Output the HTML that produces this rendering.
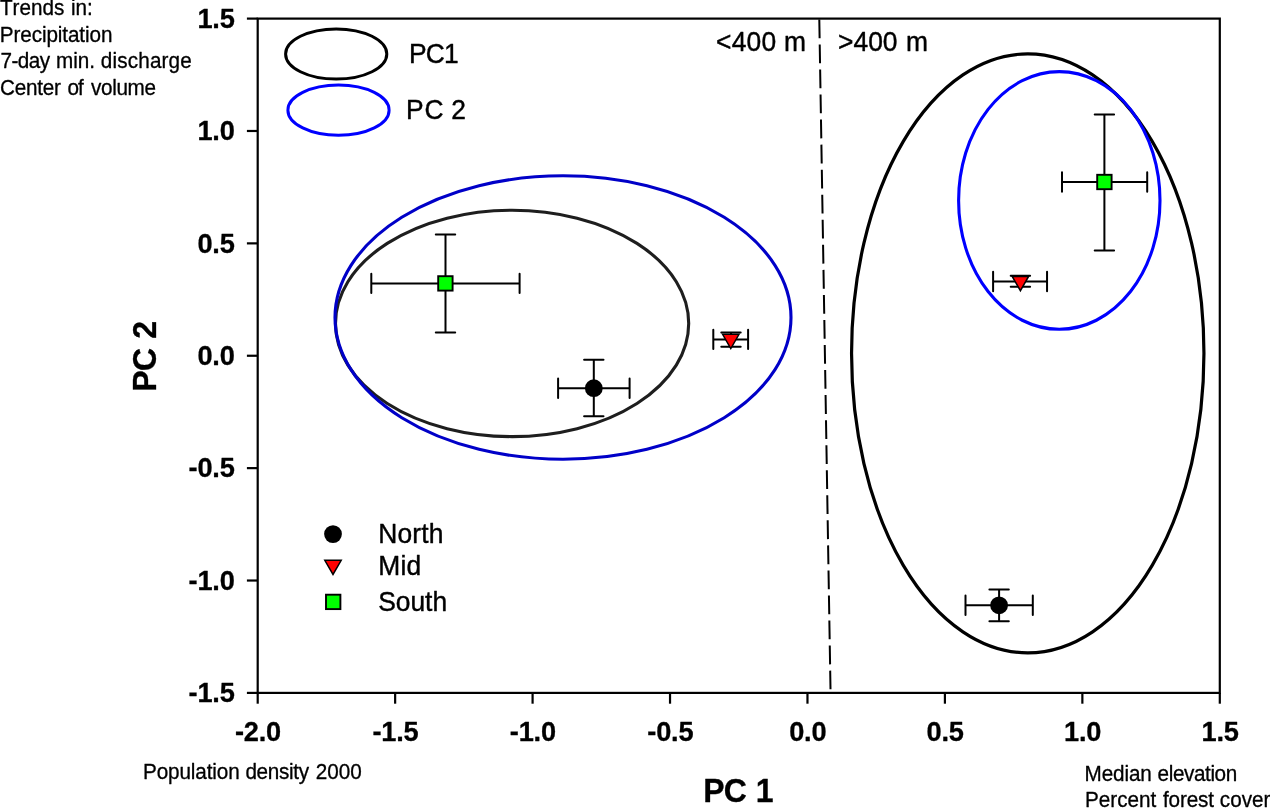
<!DOCTYPE html>
<html lang="en"><head><meta charset="utf-8"><title>PC 1 vs PC 2</title>
<style>html,body{margin:0;padding:0;background:#fff;overflow:hidden}svg{display:block;font-kerning:none}text{font-family:"Liberation Sans", Arial, Helvetica, sans-serif;fill:#000;stroke:#000;stroke-width:0.4px;stroke-linejoin:round}.b{font-weight:bold;stroke-width:0.3px}.s{stroke-width:0.3px}</style></head><body>
<svg width="1270" height="808" viewBox="0 0 1270 808">
<rect x="0" y="0" width="1270" height="808" fill="#fff"/>
<ellipse cx="512.1" cy="323.4" rx="176.6" ry="113.2" fill="none" stroke="#1e1e1e" stroke-width="3.1"/>
<ellipse cx="563.0" cy="317.5" rx="228.0" ry="141.7" fill="none" stroke="#0000c8" stroke-width="3.1"/>
<ellipse cx="1027.75" cy="353.35" rx="176.2" ry="299.5" fill="none" stroke="#000" stroke-width="3.2"/>
<ellipse cx="1059.3" cy="200.45" rx="100.7" ry="128.85" fill="none" stroke="#0000ff" stroke-width="3.1"/>
<ellipse cx="336.2" cy="54.0" rx="50.6" ry="25.1" fill="none" stroke="#000" stroke-width="3.0"/>
<ellipse cx="338.5" cy="110.2" rx="50.6" ry="25.1" fill="none" stroke="#0000ff" stroke-width="3.0"/>
<line x1="819.3" y1="19.4" x2="830.5" y2="689.3" stroke="#000" stroke-width="2.0" stroke-dasharray="18.8 6.25"/>
<rect x="257.7" y="18.6" width="962.10" height="674.30" fill="none" stroke="#000" stroke-width="2.2"/>
<line x1="257.70" y1="692.9" x2="257.70" y2="703.6999999999999" stroke="#000" stroke-width="2.2"/>
<text class="b" x="258.00" y="741.3" font-size="27.2" letter-spacing="-0.2" text-anchor="middle">-2.0</text>
<line x1="395.14" y1="692.9" x2="395.14" y2="703.6999999999999" stroke="#000" stroke-width="2.2"/>
<text class="b" x="395.44" y="741.3" font-size="27.2" letter-spacing="-0.2" text-anchor="middle">-1.5</text>
<line x1="532.59" y1="692.9" x2="532.59" y2="703.6999999999999" stroke="#000" stroke-width="2.2"/>
<text class="b" x="532.89" y="741.3" font-size="27.2" letter-spacing="-0.2" text-anchor="middle">-1.0</text>
<line x1="670.03" y1="692.9" x2="670.03" y2="703.6999999999999" stroke="#000" stroke-width="2.2"/>
<text class="b" x="670.33" y="741.3" font-size="27.2" letter-spacing="-0.2" text-anchor="middle">-0.5</text>
<line x1="807.47" y1="692.9" x2="807.47" y2="703.6999999999999" stroke="#000" stroke-width="2.2"/>
<text class="b" x="807.77" y="741.3" font-size="27.2" letter-spacing="-0.2" text-anchor="middle">0.0</text>
<line x1="944.91" y1="692.9" x2="944.91" y2="703.6999999999999" stroke="#000" stroke-width="2.2"/>
<text class="b" x="945.21" y="741.3" font-size="27.2" letter-spacing="-0.2" text-anchor="middle">0.5</text>
<line x1="1082.36" y1="692.9" x2="1082.36" y2="703.6999999999999" stroke="#000" stroke-width="2.2"/>
<text class="b" x="1082.66" y="741.3" font-size="27.2" letter-spacing="-0.2" text-anchor="middle">1.0</text>
<line x1="1219.80" y1="692.9" x2="1219.80" y2="703.6999999999999" stroke="#000" stroke-width="2.2"/>
<text class="b" x="1220.10" y="741.3" font-size="27.2" letter-spacing="-0.2" text-anchor="middle">1.5</text>
<line x1="246.89999999999998" y1="692.90" x2="257.7" y2="692.90" stroke="#000" stroke-width="2.2"/>
<text class="b" x="234.6" y="702.15" font-size="27.2" letter-spacing="-0.2" text-anchor="end">-1.5</text>
<line x1="246.89999999999998" y1="580.52" x2="257.7" y2="580.52" stroke="#000" stroke-width="2.2"/>
<text class="b" x="234.6" y="589.77" font-size="27.2" letter-spacing="-0.2" text-anchor="end">-1.0</text>
<line x1="246.89999999999998" y1="468.13" x2="257.7" y2="468.13" stroke="#000" stroke-width="2.2"/>
<text class="b" x="234.6" y="477.38" font-size="27.2" letter-spacing="-0.2" text-anchor="end">-0.5</text>
<line x1="246.89999999999998" y1="355.75" x2="257.7" y2="355.75" stroke="#000" stroke-width="2.2"/>
<text class="b" x="234.6" y="365.00" font-size="27.2" letter-spacing="-0.2" text-anchor="end">0.0</text>
<line x1="246.89999999999998" y1="243.37" x2="257.7" y2="243.37" stroke="#000" stroke-width="2.2"/>
<text class="b" x="234.6" y="252.62" font-size="27.2" letter-spacing="-0.2" text-anchor="end">0.5</text>
<line x1="246.89999999999998" y1="130.98" x2="257.7" y2="130.98" stroke="#000" stroke-width="2.2"/>
<text class="b" x="234.6" y="140.23" font-size="27.2" letter-spacing="-0.2" text-anchor="end">1.0</text>
<line x1="246.89999999999998" y1="18.60" x2="257.7" y2="18.60" stroke="#000" stroke-width="2.2"/>
<text class="b" x="234.6" y="27.85" font-size="27.2" letter-spacing="-0.2" text-anchor="end">1.5</text>
<path d="M371.3 283.4H519.6M371.3 273.7V293.09999999999997M519.6 273.7V293.09999999999997" fill="none" stroke="#000" stroke-width="2.0" stroke-linecap="round"/>
<path d="M445.5 234.4V332.5M435.8 234.4H455.2M435.8 332.5H455.2" fill="none" stroke="#000" stroke-width="2.0" stroke-linecap="round"/>
<rect x="438.20" y="276.20" width="14.4" height="14.4" fill="#00ff00" stroke="#000" stroke-width="1.9"/>
<path d="M558.1 388.2H629.6M558.1 378.5V397.9M629.6 378.5V397.9" fill="none" stroke="#000" stroke-width="2.0" stroke-linecap="round"/>
<path d="M593.8 359.8V416.3M584.0999999999999 359.8H603.5M584.0999999999999 416.3H603.5" fill="none" stroke="#000" stroke-width="2.0" stroke-linecap="round"/>
<circle cx="593.8" cy="388.2" r="8.9" fill="#000"/>
<path d="M713.3 339.4H748.1M713.3 329.7V349.09999999999997M748.1 329.7V349.09999999999997" fill="none" stroke="#000" stroke-width="2.0" stroke-linecap="round"/>
<path d="M731.0 332.5V346.7M721.3 332.5H740.7M721.3 346.7H740.7" fill="none" stroke="#000" stroke-width="2.0" stroke-linecap="round"/>
<path d="M722.60 334.37H739.00L730.80 348.57Z" fill="#ff0000" stroke="#000" stroke-width="1.5" stroke-linejoin="miter"/>
<path d="M993.1 281.5H1047.05M993.1 271.8V291.2M1047.05 271.8V291.2" fill="none" stroke="#000" stroke-width="2.0" stroke-linecap="round"/>
<path d="M1020.4 275.8V286.8M1010.6999999999999 275.8H1030.1M1010.6999999999999 286.8H1030.1" fill="none" stroke="#000" stroke-width="2.0" stroke-linecap="round"/>
<path d="M1012.20 276.47H1028.60L1020.40 290.67Z" fill="#ff0000" stroke="#000" stroke-width="1.5" stroke-linejoin="miter"/>
<path d="M1062.0 182.0H1147.2M1062.0 172.3V191.7M1147.2 172.3V191.7" fill="none" stroke="#000" stroke-width="2.0" stroke-linecap="round"/>
<path d="M1104.4 114.5V250.5M1094.7 114.5H1114.1000000000001M1094.7 250.5H1114.1000000000001" fill="none" stroke="#000" stroke-width="2.0" stroke-linecap="round"/>
<rect x="1097.20" y="174.80" width="14.4" height="14.4" fill="#00ff00" stroke="#000" stroke-width="1.9"/>
<path d="M965.5 605.3H1032.8M965.5 595.5999999999999V615.0M1032.8 595.5999999999999V615.0" fill="none" stroke="#000" stroke-width="2.0" stroke-linecap="round"/>
<path d="M999.1 589.4V621.3M989.4 589.4H1008.8000000000001M989.4 621.3H1008.8000000000001" fill="none" stroke="#000" stroke-width="2.0" stroke-linecap="round"/>
<circle cx="999.1" cy="605.3" r="8.9" fill="#000"/>
<circle cx="333.0" cy="534.1" r="8.9" fill="#000"/>
<path d="M324.80 560.27H341.20L333.00 574.47Z" fill="#ff0000" stroke="#000" stroke-width="1.5" stroke-linejoin="miter"/>
<rect x="326.00" y="594.70" width="14.4" height="14.4" fill="#00ff00" stroke="#000" stroke-width="1.9"/>
<text class="s" y="0" font-size="20.7" transform="translate(0 15.45) scale(1 1.04)"><tspan x="-0.1">Trends</tspan> <tspan x="71.0">in:</tspan></text>
<text class="s" y="0" font-size="20.7" transform="translate(0 41.8) scale(1 1.04)"><tspan x="-0.25" letter-spacing="-0.1">Precipitation</tspan></text>
<text class="s" y="0" font-size="20.7" transform="translate(0 68.25) scale(1 1.04)"><tspan x="0.5" letter-spacing="-0.525">7-day</tspan> <tspan x="56.0">min.</tspan> <tspan x="100.8" letter-spacing="0.156">discharge</tspan></text>
<text class="s" y="0" font-size="20.7" transform="translate(0 94.6) scale(1 1.04)"><tspan x="0.1" letter-spacing="-0.27">Center</tspan> <tspan x="67.5" letter-spacing="-1.0">of</tspan> <tspan x="91.05" letter-spacing="-0.36">volume</tspan></text>
<text class="s" y="0" font-size="20.7" transform="translate(0 778.6) scale(1 1.04)"><tspan x="143.05" letter-spacing="-0.128">Population</tspan> <tspan x="245.4" letter-spacing="-0.317">density</tspan> <tspan x="315.8">2000</tspan></text>
<text class="s" y="0" font-size="20.7" transform="translate(0 780.8) scale(1 1.04)"><tspan x="1084.55" letter-spacing="-0.12">Median</tspan> <tspan x="1157.6" letter-spacing="-0.4">elevation</tspan></text>
<text class="s" y="0" font-size="20.7" transform="translate(0 807.3) scale(1 1.04)"><tspan x="1084.95">Percent</tspan> <tspan x="1162.95" letter-spacing="-0.12">forest</tspan> <tspan x="1219.8">cover</tspan></text>
<text y="0" font-size="26.4" transform="translate(0 63.2) scale(1 1.04)"><tspan x="408.95" letter-spacing="-0.825">PC1</tspan></text>
<text y="0" font-size="26.4" transform="translate(0 118.5) scale(1 1.04)"><tspan x="406.05" letter-spacing="0.85">PC</tspan> <tspan x="451.35">2</tspan></text>
<text y="0" font-size="26.4" transform="translate(0 51.2) scale(1 1.04)"><tspan x="716.05" letter-spacing="0.217">&lt;400</tspan> <tspan x="784.0">m</tspan></text>
<text y="0" font-size="26.4" transform="translate(0 51.2) scale(1 1.04)"><tspan x="838.05">&gt;400</tspan> <tspan x="906.0">m</tspan></text>
<text y="0" font-size="26.4" transform="translate(0 543.4) scale(1 1.04)"><tspan x="378.15" letter-spacing="0.175">North</tspan></text>
<text y="0" font-size="26.4" transform="translate(0 574.5) scale(1 1.04)"><tspan x="378.15" letter-spacing="0.3">Mid</tspan></text>
<text y="0" font-size="26.4" transform="translate(0 611.2) scale(1 1.04)"><tspan x="378.15">South</tspan></text>
<text class="b" y="0" font-size="32" transform="translate(0 801.6) scale(1 1.02)"><tspan x="703.15" letter-spacing="-0.75">PC</tspan> <tspan x="755.75">1</tspan></text>
<text class="b" font-size="32" y="0" transform="translate(155.8 389.7) rotate(-90) scale(1 1.065)"><tspan x="-2.0" letter-spacing="-0.7">PC</tspan> <tspan x="50.9">2</tspan></text>
</svg></body></html>
